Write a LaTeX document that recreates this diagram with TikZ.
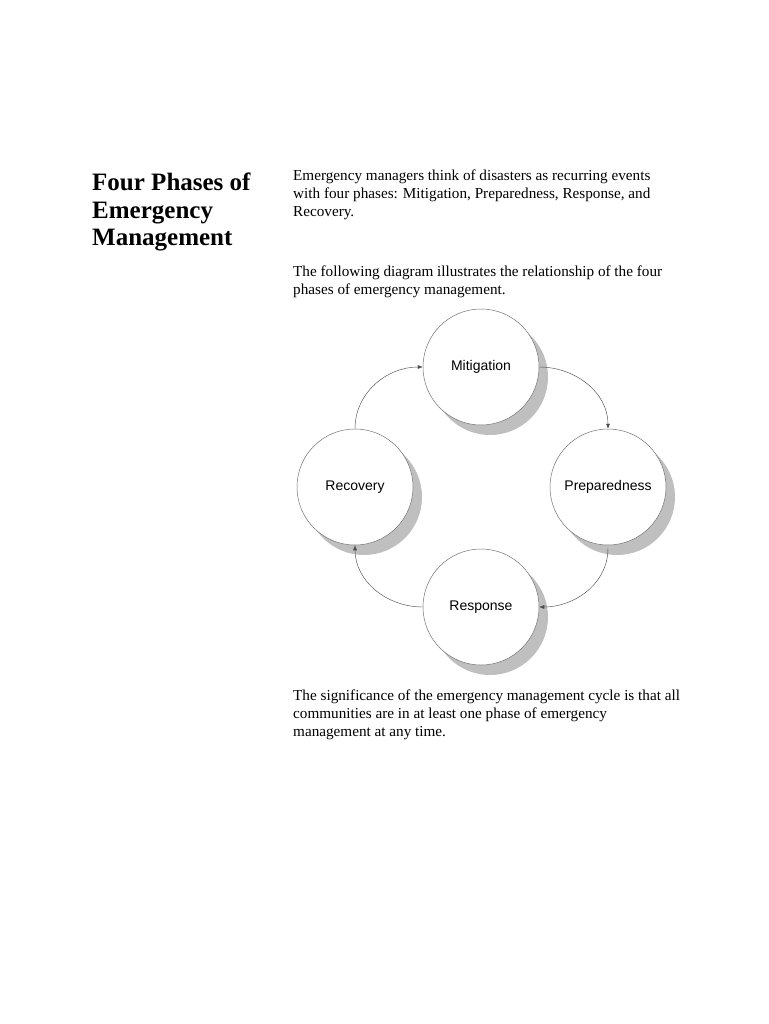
\documentclass[tikz,border=0pt]{standalone}
\usepackage{fontspec}
\setmainfont{Liberation Serif}
\newfontfamily\labelfont{Liberation Sans}
\usetikzlibrary{shadows,arrows.meta}

\begin{document}
\begin{tikzpicture}[x=1pt,y=-1pt,
	phase/.style={circle,draw=black!55,line width=0.5pt,fill=white,minimum size=116pt,inner sep=0pt,
		font=\labelfont\fontsize{14}{16}\selectfont,
		drop shadow={shadow xshift=9pt,shadow yshift=-10pt,fill=black!25,opacity=1}},
	link/.style={draw=black!70,line width=0.45pt,-{Latex[length=5pt,width=4pt]}},
	body/.style={anchor=base west,inner sep=0pt,align=left,font=\fontsize{15.2}{18}\selectfont}]
			\useasboundingbox (0,0) rectangle (768,1024);
			\coordinate (M) at (481,367);
			\coordinate (P) at (608,487);
			\coordinate (S) at (481,607);
			\coordinate (R) at (355,487);
			\node[phase] (mit) at (M) {Mitigation};
			\node[phase] (pre) at (P) {Preparedness};
			\node[phase] (res) at (S) {Response};
			\node[phase] (rec) at (R) {Recovery};
			\draw[link] (rec.north) to[out=90,in=180] (mit.west);
			\draw[link] (mit.east) to[out=0,in=90] (pre.north);
			\draw[link] (pre.south) ++(0,3) to[out=-90,in=0] (res.east);
			\draw[link] (res.west) to[out=180,in=-90] (rec.south);
			% base of a multi-line node = last line
			\node[anchor=base west,inner sep=0pt,align=left,font=\bfseries\fontsize{25}{27.5}\selectfont] (title) at (92,245.5)
				{Four Phases of\\Emergency\\Management};
			\node[body] (intro) at (293,217) {Emergency managers think of disasters as recurring events\\
				with four phases: Mitigation, Preparedness, Response, and\\Recovery.};
			\node[body] (lead) at (293,294) {The following diagram illustrates the relationship of the four\\
				phases of emergency management.};
			\node[body] (close) at (293,736) {The significance of the emergency management cycle is that all\\
				communities are in at least one phase of emergency\\management at any time.};
		\end{tikzpicture}
\end{document}
